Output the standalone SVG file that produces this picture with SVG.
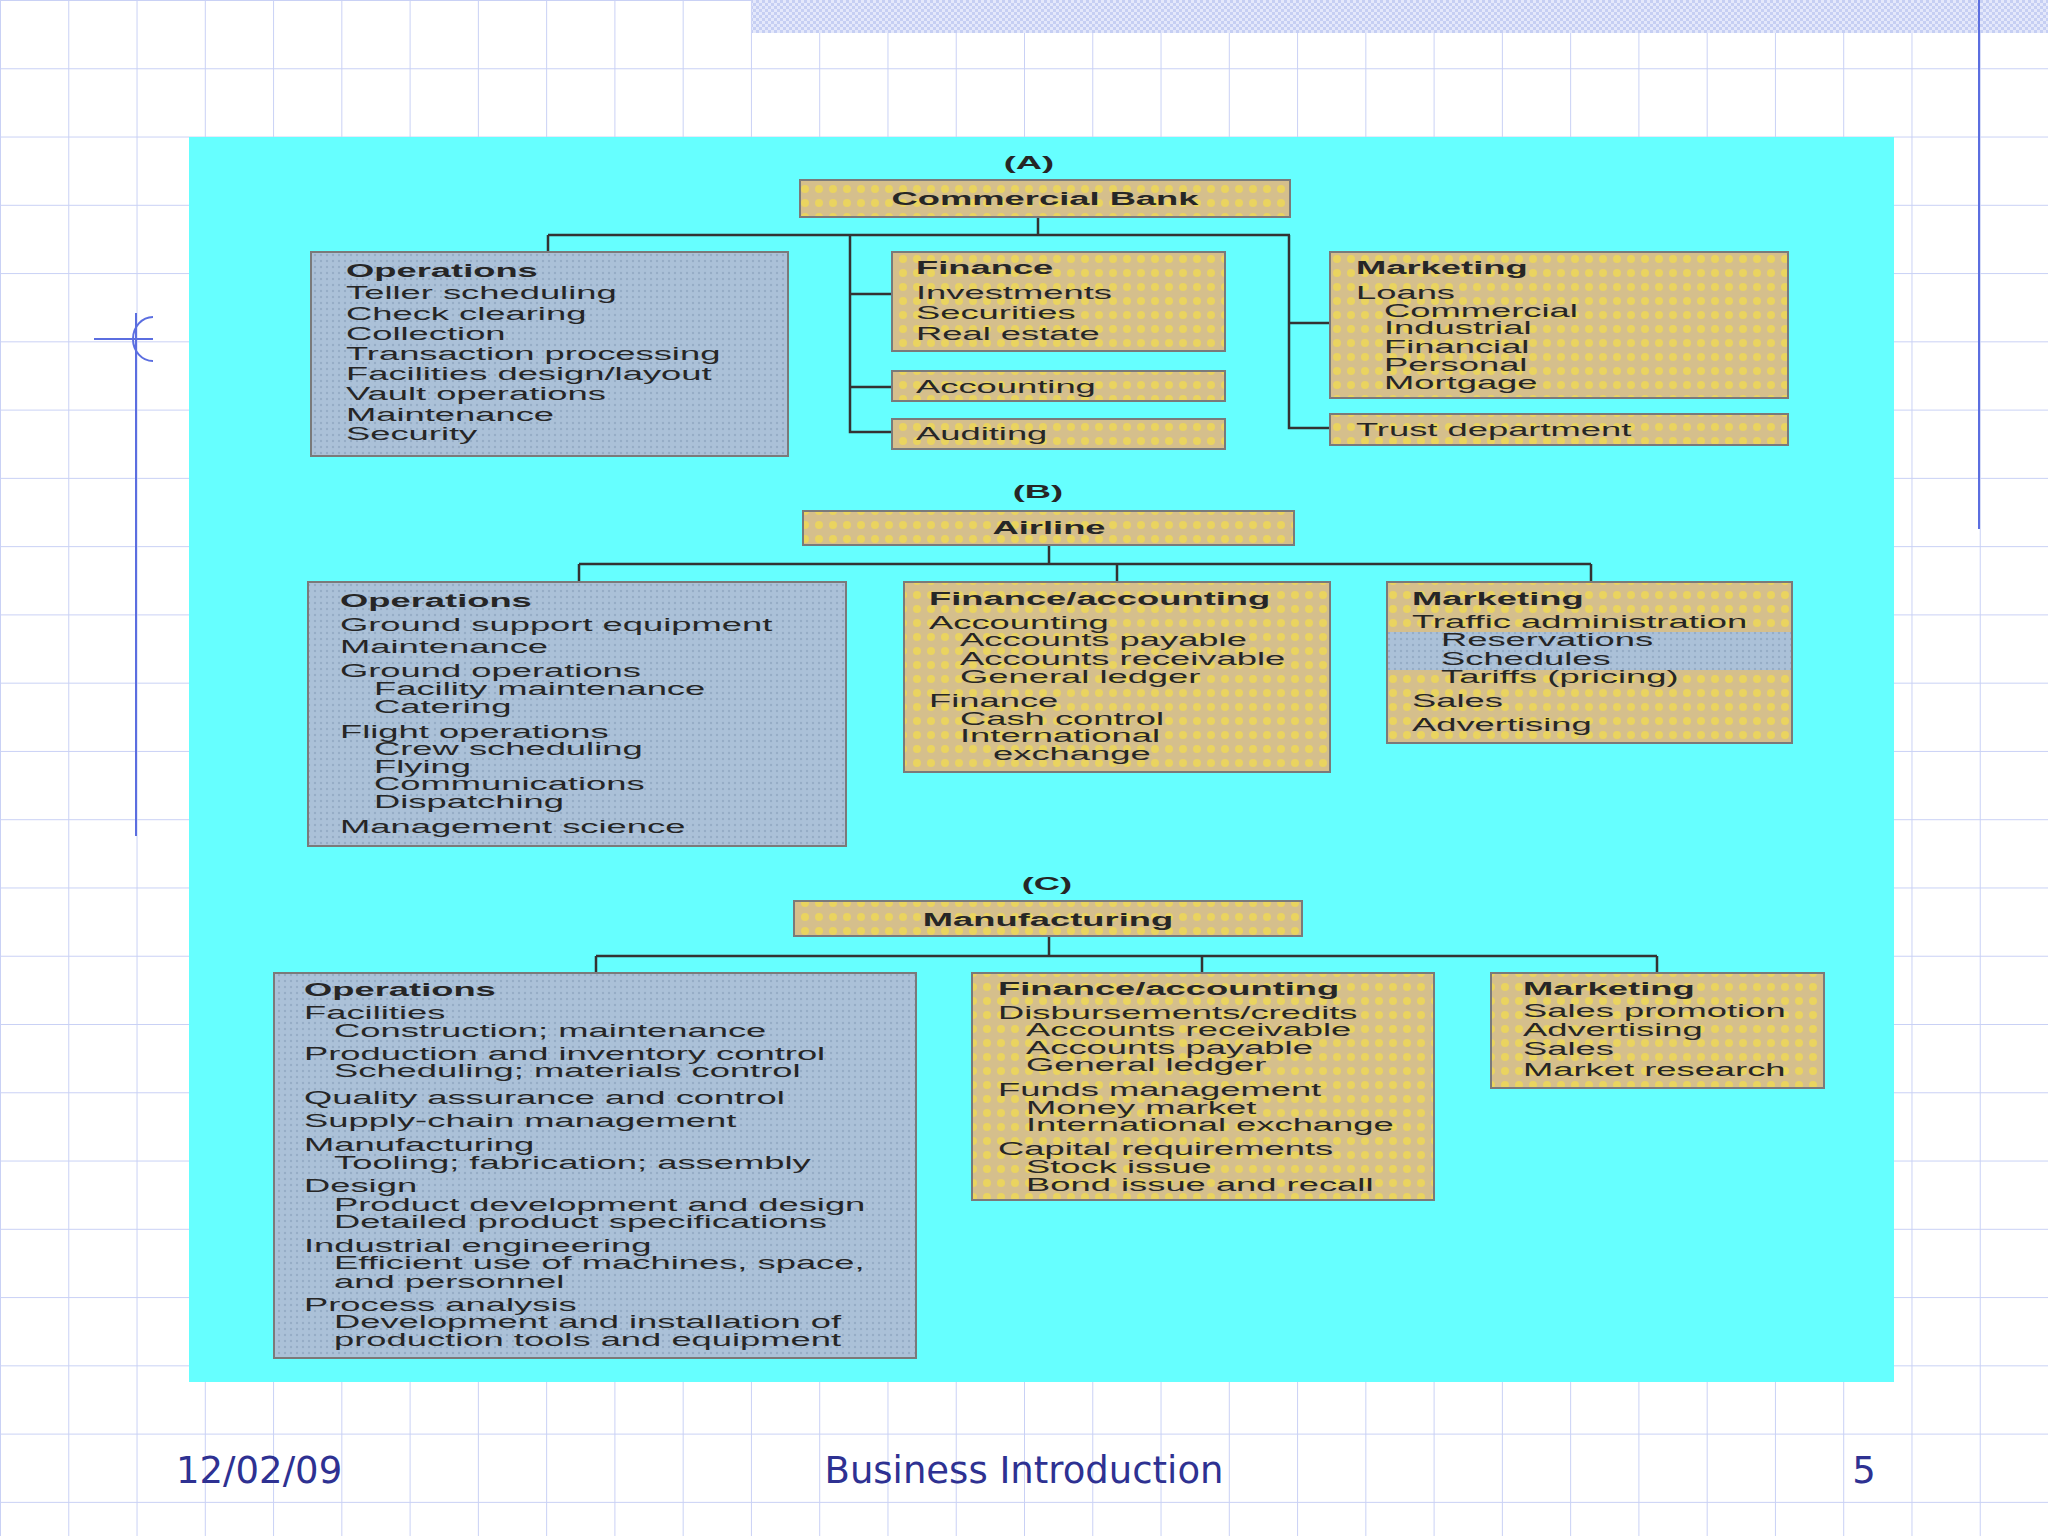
<svg xmlns="http://www.w3.org/2000/svg" width="2048" height="1536" viewBox="0 0 2048 1536">
<defs>
<pattern id="grid" width="68.267" height="68.267" patternUnits="userSpaceOnUse"><path d="M0 0V68.267M0 0H68.267" stroke="#c9d1f5" stroke-width="2" fill="none"/></pattern>
<pattern id="band" width="6" height="6" patternUnits="userSpaceOnUse"><rect width="6" height="6" fill="#e4e8fb"/><rect width="3" height="3" fill="#c6cff3"/><rect x="3" y="3" width="3" height="3" fill="#c6cff3"/></pattern>
<pattern id="tan" width="14" height="14" patternUnits="userSpaceOnUse"><rect width="14" height="14" fill="#d5bf8c"/><circle cx="7" cy="7" r="4" fill="#ead45f"/></pattern>
<pattern id="blue" width="6" height="6" patternUnits="userSpaceOnUse"><rect width="6" height="6" fill="#abc1d8"/><circle cx="3" cy="3" r="1.2" fill="#96adc6"/></pattern>
<style>
.t{font-family:"Liberation Sans",Arial,sans-serif;font-size:18px;fill:#262626}
.b{font-weight:bold}
.tan{fill:url(#tan);stroke:#7a7a7a;stroke-width:2}
.bl{fill:url(#blue);stroke:#7a7a7a;stroke-width:2}
.c{fill:none;stroke:#333;stroke-width:2.5}
.f{font-family:"DejaVu Sans",Verdana,sans-serif;font-size:37px;fill:#2e3192}
</style>
</defs>
<rect width="2048" height="1536" fill="#ffffff"/>
<rect width="2048" height="1536" fill="url(#grid)"/>
<rect x="752" y="0" width="1296" height="33" fill="url(#band)"/>
<line x1="1979" y1="0" x2="1979" y2="529" stroke="#5b6ee0" stroke-width="2"/>
<line x1="136" y1="313" x2="136" y2="836" stroke="#5b6ee0" stroke-width="2"/>
<line x1="94" y1="339" x2="153" y2="339" stroke="#5b6ee0" stroke-width="2"/>
<path d="M153 317 A20 22 0 1 0 153 361" fill="none" stroke="#5b6ee0" stroke-width="2"/>
<rect x="189" y="137" width="1705" height="1245" fill="#66ffff"/>

<g id="connectors">
<path class="c" d="M1038 217V235M548 235H1290M548 235V252M850 235V432H892M850 294H892M850 387H892M1289 235V428H1330M1289 323H1330"/>
<path class="c" d="M1049 545V564M579 564H1591M579 564V582M1117 564V582M1591 564V582"/>
<path class="c" d="M1049 936V956M596 956H1657M596 956V973M1202 956V973M1657 956V973"/>
</g>

<g class="t">
<text class="b" text-anchor="middle" transform="translate(1029 169) scale(2.02 1)">(A)</text>
<text class="b" text-anchor="middle" transform="translate(1038 498) scale(2.02 1)">(B)</text>
<text class="b" text-anchor="middle" transform="translate(1047 890) scale(2.02 1)">(C)</text>
</g>

<g id="bank">
<rect class="tan" x="800" y="180" width="490" height="37"/>
<text class="t b" text-anchor="middle" transform="translate(1045 205) scale(2.02 1)">Commercial Bank</text>
</g>
<g id="opsA">
<rect class="bl" x="311" y="252" width="477" height="204"/>
<g class="t">
<text class="b" transform="translate(346 277) scale(2.02 1)">Operations</text>
<text transform="translate(346 299) scale(2.02 1)">Teller scheduling</text>
<text transform="translate(346 320) scale(2.02 1)">Check clearing</text>
<text transform="translate(346 340) scale(2.02 1)">Collection</text>
<text transform="translate(346 360) scale(2.02 1)">Transaction processing</text>
<text transform="translate(346 380) scale(2.02 1)">Facilities design/layout</text>
<text transform="translate(346 400) scale(2.02 1)">Vault operations</text>
<text transform="translate(346 421) scale(2.02 1)">Maintenance</text>
<text transform="translate(346 440) scale(2.02 1)">Security</text>
</g></g>
<g id="finA">
<rect class="tan" x="892" y="252" width="333" height="99"/>
<g class="t">
<text class="b" transform="translate(916 274) scale(2.02 1)">Finance</text>
<text transform="translate(916 299) scale(2.02 1)">Investments</text>
<text transform="translate(916 319) scale(2.02 1)">Securities</text>
<text transform="translate(916 340) scale(2.02 1)">Real estate</text>
</g></g>
<g id="acctA"><rect class="tan" x="892" y="371" width="333" height="30"/><text class="t" transform="translate(916 393) scale(2.02 1)">Accounting</text></g>
<g id="audA"><rect class="tan" x="892" y="419" width="333" height="30"/><text class="t" transform="translate(916 440) scale(2.02 1)">Auditing</text></g>
<g id="mktA">
<rect class="tan" x="1330" y="252" width="458" height="146"/>
<g class="t">
<text class="b" transform="translate(1356 274) scale(2.02 1)">Marketing</text>
<text transform="translate(1356 299) scale(2.02 1)">Loans</text>
<text transform="translate(1384 317) scale(2.02 1)">Commercial</text>
<text transform="translate(1384 334) scale(2.02 1)">Industrial</text>
<text transform="translate(1384 353) scale(2.02 1)">Financial</text>
<text transform="translate(1384 371) scale(2.02 1)">Personal</text>
<text transform="translate(1384 389) scale(2.02 1)">Mortgage</text>
</g></g>
<g id="trustA"><rect class="tan" x="1330" y="414" width="458" height="31"/><text class="t" transform="translate(1356 436) scale(2.02 1)">Trust department</text></g>

<g id="airline">
<rect class="tan" x="803" y="511" width="491" height="34"/>
<text class="t b" text-anchor="middle" transform="translate(1049 534) scale(2.02 1)">Airline</text>
</g>
<g id="opsB">
<rect class="bl" x="308" y="582" width="538" height="264"/>
<g class="t">
<text class="b" transform="translate(340 607) scale(2.02 1)">Operations</text>
<text transform="translate(340 631) scale(2.02 1)">Ground support equipment</text>
<text transform="translate(340 653) scale(2.02 1)">Maintenance</text>
<text transform="translate(340 677) scale(2.02 1)">Ground operations</text>
<text transform="translate(374 695) scale(2.02 1)">Facility maintenance</text>
<text transform="translate(374 713) scale(2.02 1)">Catering</text>
<text transform="translate(340 738) scale(2.02 1)">Flight operations</text>
<text transform="translate(374 755) scale(2.02 1)">Crew scheduling</text>
<text transform="translate(374 773) scale(2.02 1)">Flying</text>
<text transform="translate(374 790) scale(2.02 1)">Communications</text>
<text transform="translate(374 808) scale(2.02 1)">Dispatching</text>
<text transform="translate(340 833) scale(2.02 1)">Management science</text>
</g></g>
<g id="finB">
<rect class="tan" x="904" y="582" width="426" height="190"/>
<g class="t">
<text class="b" transform="translate(929 605) scale(2.02 1)">Finance/accounting</text>
<text transform="translate(929 629) scale(2.02 1)">Accounting</text>
<text transform="translate(960 646) scale(2.02 1)">Accounts payable</text>
<text transform="translate(960 665) scale(2.02 1)">Accounts receivable</text>
<text transform="translate(960 683) scale(2.02 1)">General ledger</text>
<text transform="translate(929 707) scale(2.02 1)">Finance</text>
<text transform="translate(960 725) scale(2.02 1)">Cash control</text>
<text transform="translate(960 742) scale(2.02 1)">International</text>
<text transform="translate(993 760) scale(2.02 1)">exchange</text>
</g></g>
<g id="mktB">
<rect class="tan" x="1387" y="582" width="405" height="161"/>
<rect x="1388" y="632" width="403" height="38" fill="url(#blue)"/>
<g class="t">
<text class="b" transform="translate(1412 605) scale(2.02 1)">Marketing</text>
<text transform="translate(1412 628) scale(2.02 1)">Traffic administration</text>
<text transform="translate(1441 646) scale(2.02 1)">Reservations</text>
<text transform="translate(1441 665) scale(2.02 1)">Schedules</text>
<text transform="translate(1441 683) scale(2.02 1)">Tariffs (pricing)</text>
<text transform="translate(1412 707) scale(2.02 1)">Sales</text>
<text transform="translate(1412 731) scale(2.02 1)">Advertising</text>
</g></g>

<g id="manufacturing">
<rect class="tan" x="794" y="901" width="508" height="35"/>
<text class="t b" text-anchor="middle" transform="translate(1048 926) scale(2.02 1)">Manufacturing</text>
</g>
<g id="opsC">
<rect class="bl" x="274" y="973" width="642" height="385"/>
<g class="t">
<text class="b" transform="translate(304 996) scale(2.02 1)">Operations</text>
<text transform="translate(304 1019) scale(2.02 1)">Facilities</text>
<text transform="translate(334 1037) scale(2.02 1)">Construction; maintenance</text>
<text transform="translate(304 1060) scale(2.02 1)">Production and inventory control</text>
<text transform="translate(334 1077) scale(2.02 1)">Scheduling; materials control</text>
<text transform="translate(304 1104) scale(2.02 1)">Quality assurance and control</text>
<text transform="translate(304 1127) scale(2.02 1)">Supply-chain management</text>
<text transform="translate(304 1151) scale(2.02 1)">Manufacturing</text>
<text transform="translate(334 1169) scale(2.02 1)">Tooling; fabrication; assembly</text>
<text transform="translate(304 1192) scale(2.02 1)">Design</text>
<text transform="translate(334 1211) scale(2.02 1)">Product development and design</text>
<text transform="translate(334 1228) scale(2.02 1)">Detailed product specifications</text>
<text transform="translate(304 1252) scale(2.02 1)">Industrial engineering</text>
<text transform="translate(334 1269) scale(2.02 1)">Efficient use of machines, space,</text>
<text transform="translate(334 1288) scale(2.02 1)">and personnel</text>
<text transform="translate(304 1311) scale(2.02 1)">Process analysis</text>
<text transform="translate(334 1328) scale(2.02 1)">Development and installation of</text>
<text transform="translate(334 1346) scale(2.02 1)">production tools and equipment</text>
</g></g>
<g id="finC">
<rect class="tan" x="972" y="973" width="462" height="227"/>
<g class="t">
<text class="b" transform="translate(998 995) scale(2.02 1)">Finance/accounting</text>
<text transform="translate(998 1019) scale(2.02 1)">Disbursements/credits</text>
<text transform="translate(1026 1036) scale(2.02 1)">Accounts receivable</text>
<text transform="translate(1026 1054) scale(2.02 1)">Accounts payable</text>
<text transform="translate(1026 1071) scale(2.02 1)">General ledger</text>
<text transform="translate(998 1096) scale(2.02 1)">Funds management</text>
<text transform="translate(1026 1114) scale(2.02 1)">Money market</text>
<text transform="translate(1026 1131) scale(2.02 1)">International exchange</text>
<text transform="translate(998 1155) scale(2.02 1)">Capital requirements</text>
<text transform="translate(1026 1173) scale(2.02 1)">Stock issue</text>
<text transform="translate(1026 1191) scale(2.02 1)">Bond issue and recall</text>
</g></g>
<g id="mktC">
<rect class="tan" x="1491" y="973" width="333" height="115"/>
<g class="t">
<text class="b" transform="translate(1523 995) scale(2.02 1)">Marketing</text>
<text transform="translate(1523 1017) scale(2.02 1)">Sales promotion</text>
<text transform="translate(1523 1036) scale(2.02 1)">Advertising</text>
<text transform="translate(1523 1055) scale(2.02 1)">Sales</text>
<text transform="translate(1523 1076) scale(2.02 1)">Market research</text>
</g></g>

<text class="f" x="176" y="1483">12/02/09</text>
<text class="f" x="1024" y="1483" text-anchor="middle">Business Introduction</text>
<text class="f" x="1864" y="1483" text-anchor="middle">5</text>
</svg>
